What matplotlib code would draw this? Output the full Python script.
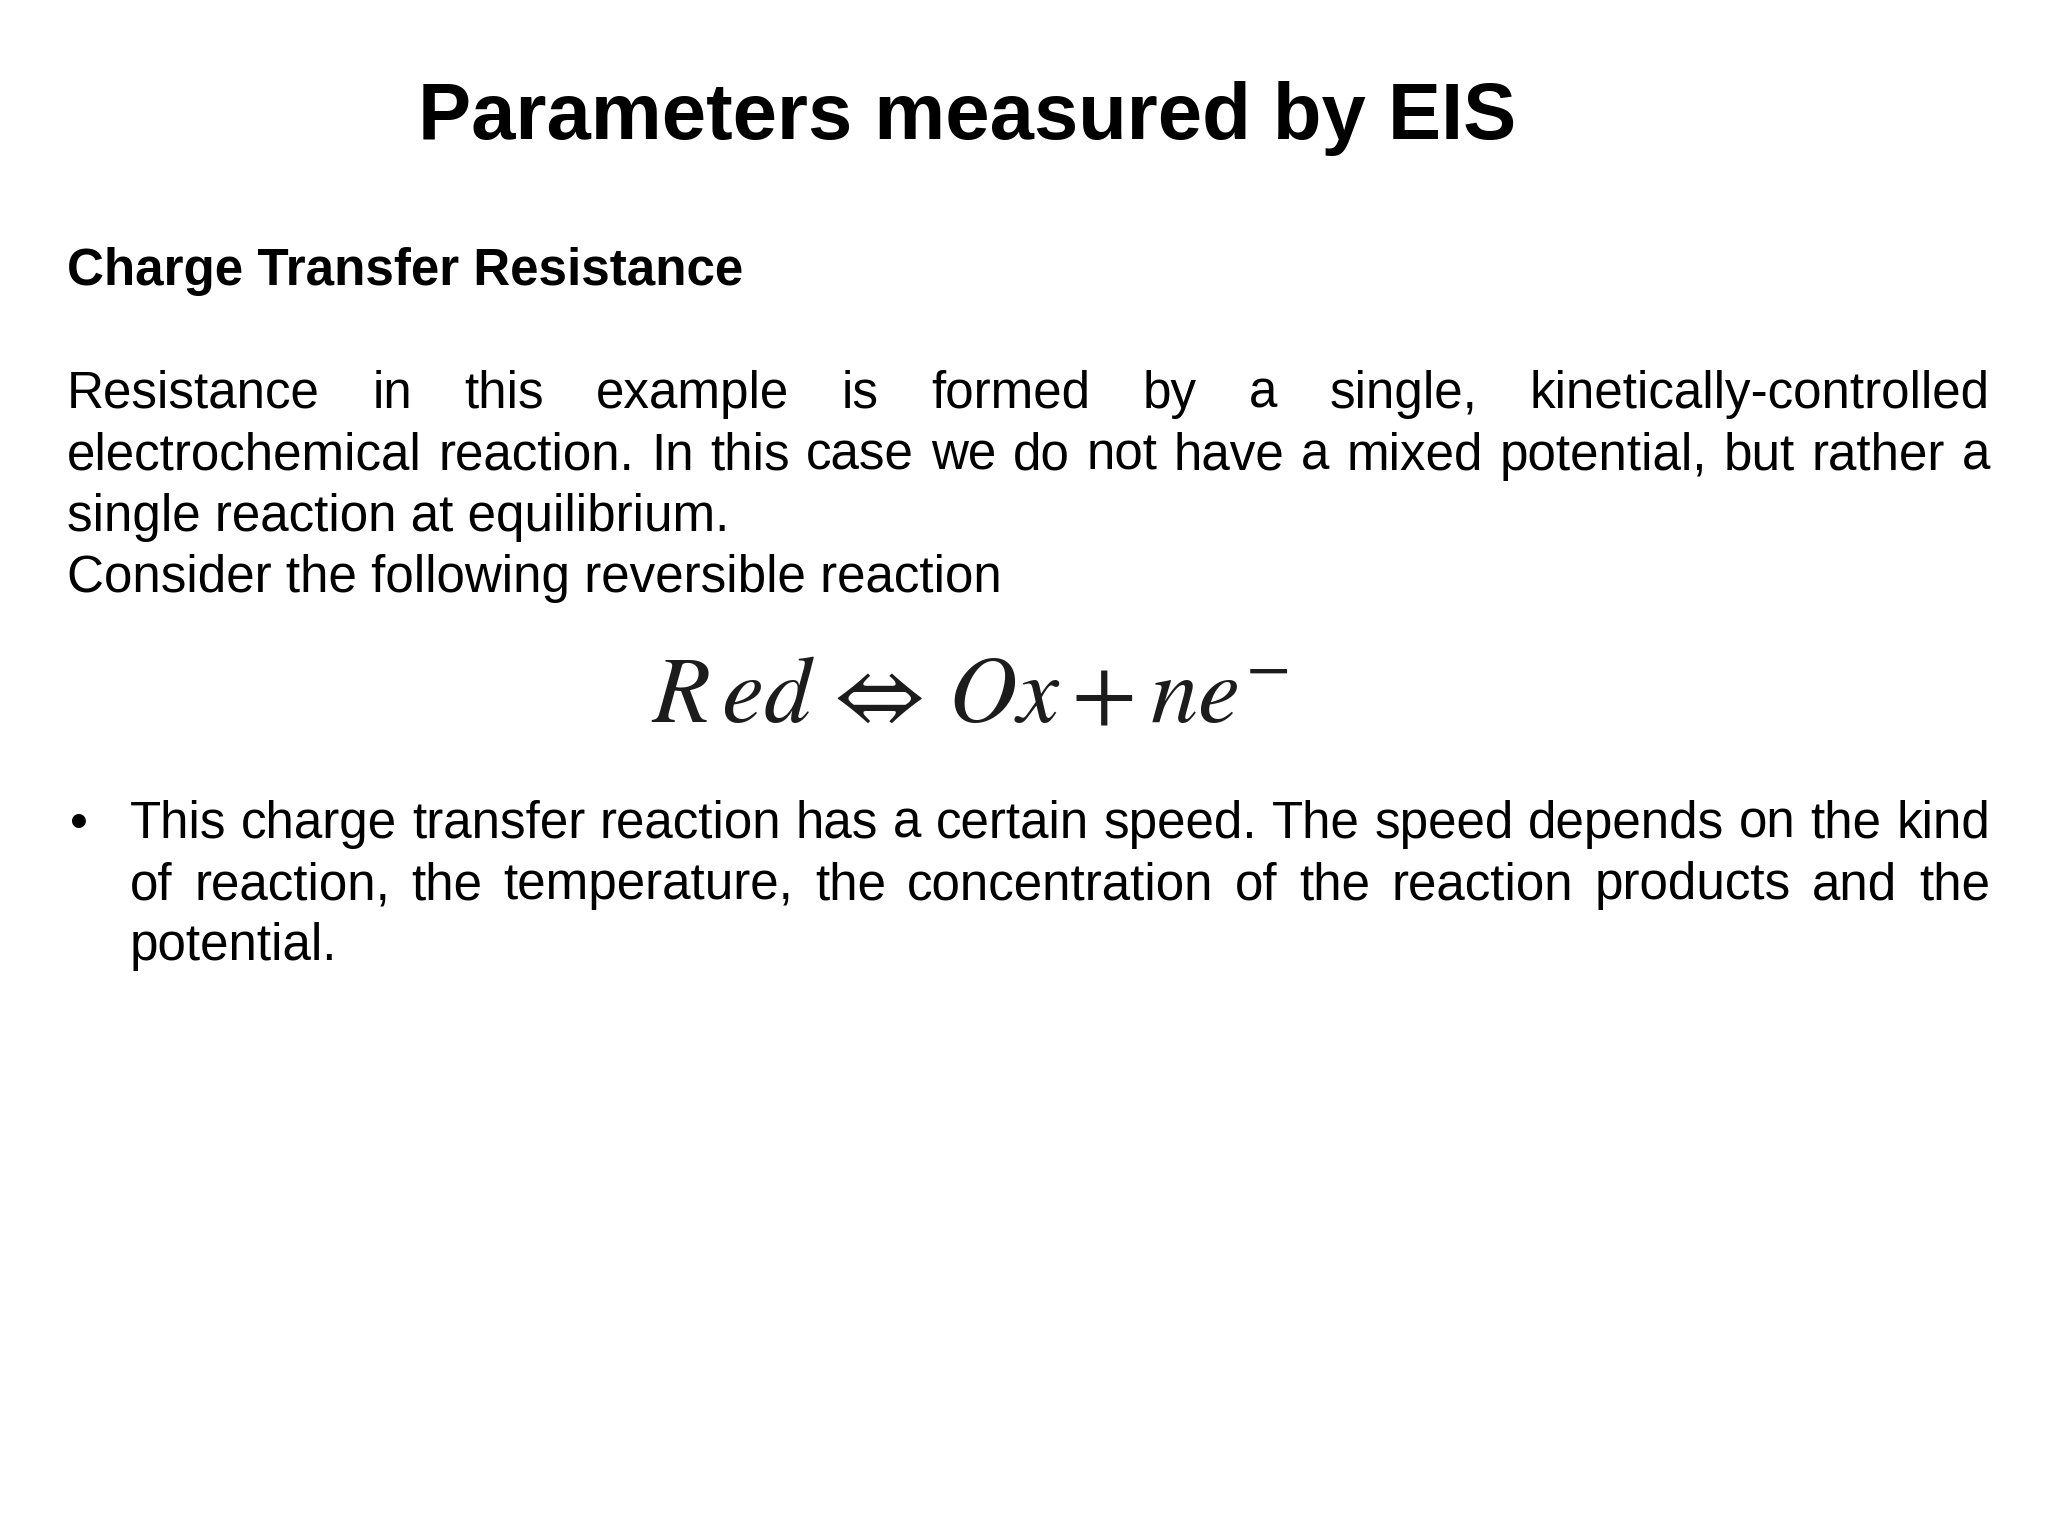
import matplotlib
matplotlib.use("Agg")
import matplotlib.pyplot as plt

# ---------------- slide text ----------------
TITLE = "Parameters measured by EIS"
HEADING = "Charge Transfer Resistance"

# (text, justified?)
PARA_LINES = [
    ("Resistance in this example is formed by a single, kinetically-controlled", True),
    ("electrochemical reaction. In this case we do not have a mixed potential, but rather a", True),
    ("single reaction at equilibrium.", False),
    ("Consider the following reversible reaction", False),
]

EQUATION = r"$R\,ed\,\Leftrightarrow\,Ox+ne^{-}$"

BULLET_LINES = [
    ("This charge transfer reaction has a certain speed. The speed depends on the kind", True),
    ("of reaction, the temperature, the concentration of the reaction products and the", True),
    ("potential.", False),
]
# --------------------------------------------

W, H = 2048, 1536
FONT = "Liberation Sans"
BODY_SIZE = 36.8

plt.rcParams["mathtext.fontset"] = "stix"


def fx(px):
    return px / W


def fy(px):
    return 1 - px / H


def draw_line(fig, renderer, text, justified, x0, x1, y, size):
    if not justified:
        fig.text(fx(x0), fy(y), text, fontsize=size, family=FONT,
                 ha="left", va="baseline")
        return
    words = text.split()
    arts = [fig.text(0, fy(y), w, fontsize=size, family=FONT,
                     ha="left", va="baseline") for w in words]
    widths = [a.get_window_extent(renderer).width for a in arts]
    gap = (x1 - x0 - sum(widths)) / (len(words) - 1)
    x = x0
    for a, wd in zip(arts, widths):
        a.set_x(fx(x))
        x += wd + gap


fig = plt.figure(figsize=(20.48, 15.36), dpi=100)
fig.patch.set_facecolor("white")
renderer = fig.canvas.get_renderer()

fig.text(fx(967), fy(139), TITLE, fontsize=57.3, fontweight="bold",
         family=FONT, ha="center", va="baseline")
fig.text(fx(67), fy(285), HEADING, fontsize=BODY_SIZE, fontweight="bold",
         family=FONT, ha="left", va="baseline")

LEFT, RIGHT = 67, 1990
para_y = [408, 470, 531, 592]
for (txt, just), y in zip(PARA_LINES, para_y):
    draw_line(fig, renderer, txt, just, LEFT, RIGHT, y, BODY_SIZE)

fig.text(fx(970), fy(722), EQUATION, fontsize=68, color="#1c1c1c",
         ha="center", va="baseline")

bullet_y = [838, 899, 960]
fig.text(fx(70), fy(bullet_y[0]), "\u2022", fontsize=BODY_SIZE, family=FONT,
         ha="left", va="baseline")
for (txt, just), y in zip(BULLET_LINES, bullet_y):
    draw_line(fig, renderer, txt, just, 130, RIGHT, y, BODY_SIZE)

fig.savefig("out.png", dpi=100, facecolor="white")
